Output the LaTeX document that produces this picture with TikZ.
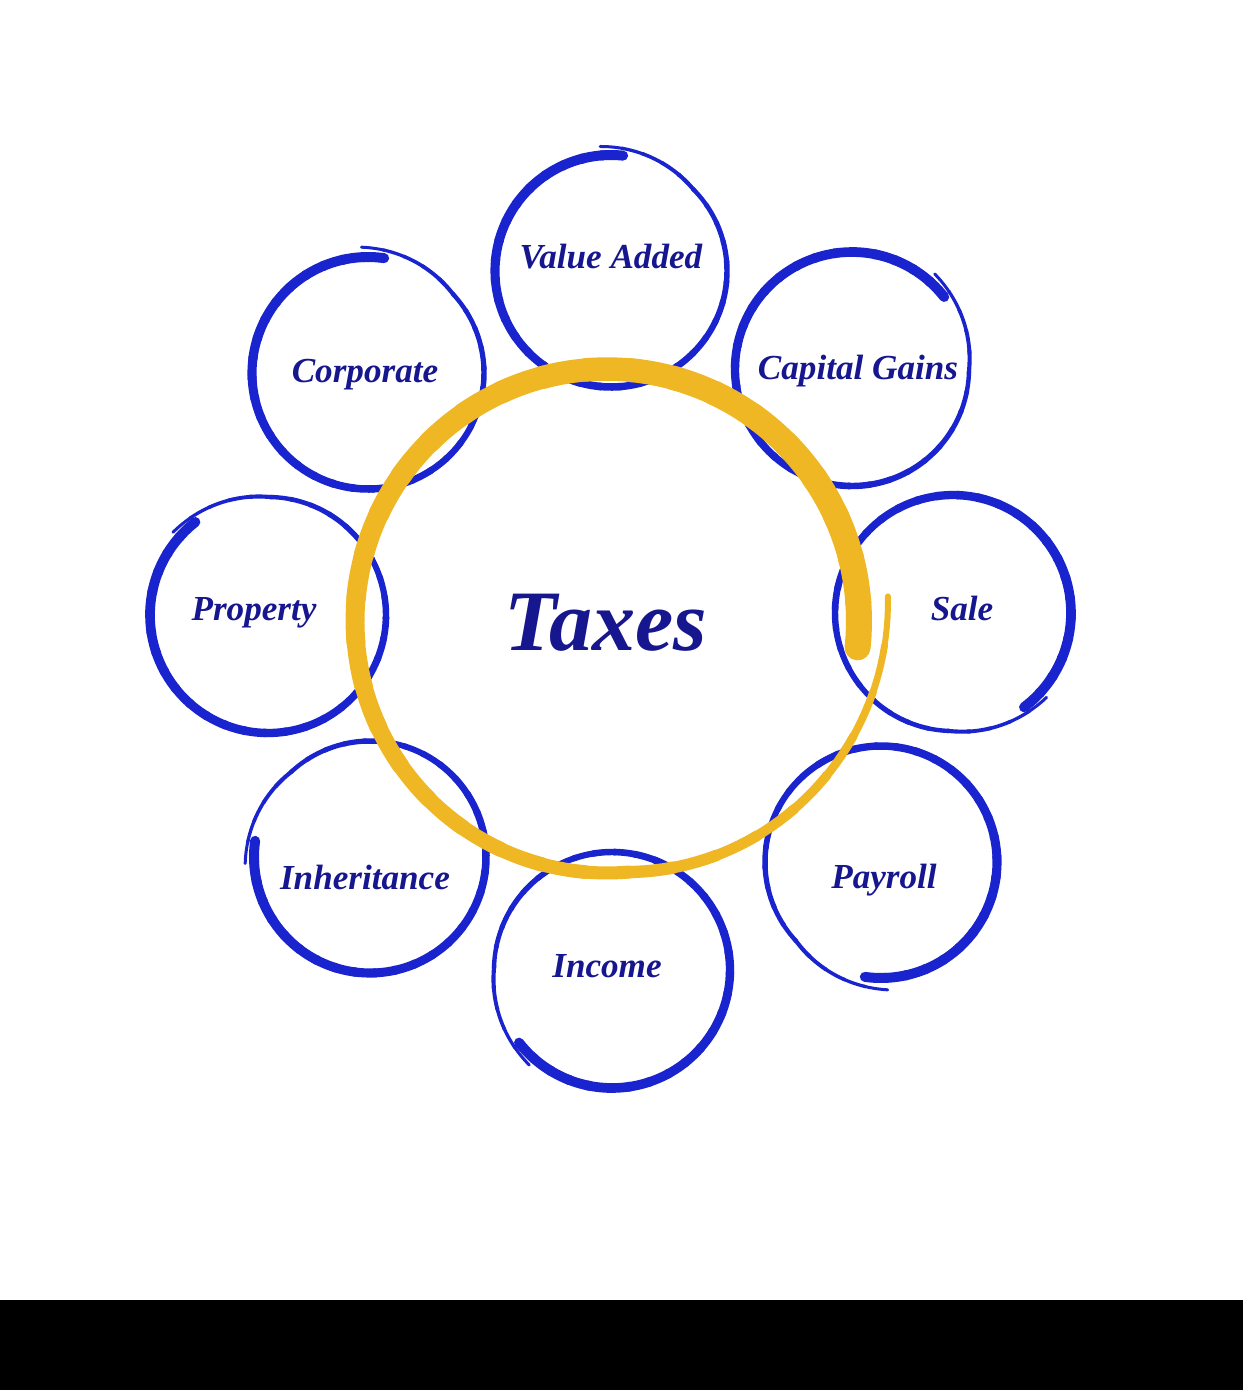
\documentclass[tikz,border=0pt]{standalone}
\usepackage{fontspec}
\setmainfont{Liberation Serif}

\definecolor{ringblue}{RGB}{26,36,206}
\definecolor{labelblue}{RGB}{22,22,142}
\definecolor{ringgold}{RGB}{238,183,35}

% hand drawn ring: centre, radius, start angle, widest, thinnest, tail growth, tail span, colour
\newcommand{\brushring}[8]{%
  \begin{scope}[shift={(#1)}]
    \foreach \k in {0,...,36}{
      \pgfmathsetmacro{\ringw}{0.02*(#4-(#4-#5)*(\k/36)^1.5)}
      \draw[#8, line width=\ringw cm, line cap=round]
        plot[domain=#3+10*\k:#3+10*\k+11, samples=6, variable=\t]
        ({(#2+#6*max(0,\t-(#3)-371+#7)/#7)*cos(\t)},
         {-(#2+#6*max(0,\t-(#3)-371+#7)/#7)*sin(\t)});
    }
  \end{scope}}

\begin{document}
\begin{tikzpicture}[x=0.02cm,y=-0.02cm,
  tax node/.style={anchor=base,text=labelblue,font=\fontsize{20}{24}\selectfont\bfseries\itshape},
  title node/.style={anchor=base,text=labelblue,font=\fontsize{49}{58}\selectfont\bfseries\itshape}]
  \fill[white] (0,0) rectangle (1243,1390);
  \useasboundingbox (0,0) rectangle (1243,1390);

  % ring centres
  \coordinate (c-value) at (611,271);
  \coordinate (c-gains) at (852,369);
  \coordinate (c-sale) at (953,613);
  \coordinate (c-payroll) at (881,862);
  \coordinate (c-income) at (612,970);
  \coordinate (c-inherit) at (370,857);
  \coordinate (c-property) at (268,615);
  \coordinate (c-corporate) at (368,373);
  \coordinate (c-taxes) at (607,621);

  \brushring{c-value}{116}{84}{10}{3}{9}{50}{ringblue}
  \brushring{c-gains}{117}{38}{10}{3}{9}{50}{ringblue}
  \brushring{c-sale}{118}{-53}{10}{3}{8}{50}{ringblue}
  \brushring{c-payroll}{116}{262}{10}{3}{12}{50}{ringblue}
  \brushring{c-income}{118}{218}{10}{3}{8}{50}{ringblue}
  \brushring{c-inherit}{116}{172}{10}{3}{9}{50}{ringblue}
  \brushring{c-property}{118}{128}{10}{3}{8}{50}{ringblue}
  \brushring{c-corporate}{116}{82}{10}{3}{10}{50}{ringblue}
  \brushring{c-taxes}{252}{-6}{26}{6}{30}{90}{ringgold}

  \node[title node] (taxes) at (606,650) {Taxes};
  \node[tax node] (value) at (611,268) {Value Added};
  \node[tax node] (gains) at (858,379) {Capital Gains};
  \node[tax node] (sale) at (962,620) {Sale};
  \node[tax node] (payroll) at (884,888) {Payroll};
  \node[tax node] (income) at (607,977) {Income};
  \node[tax node] (inherit) at (365,889) {Inheritance};
  \node[tax node] (property) at (254,620) {Property};
  \node[tax node] (corporate) at (365,382) {Corporate};

  \fill[black] (0,1300) rectangle (1243,1390);
\end{tikzpicture}
\end{document}
